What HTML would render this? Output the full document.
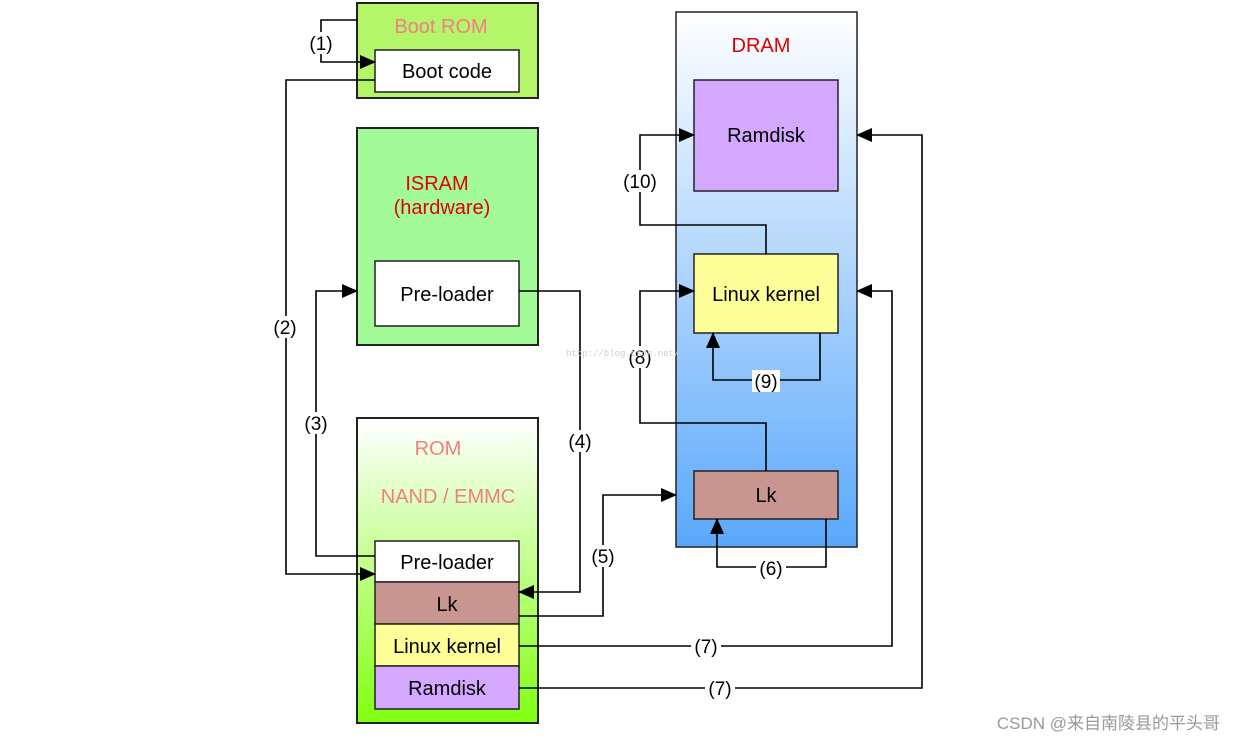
<!DOCTYPE html>
<html><head><meta charset="utf-8"><style>
html,body{margin:0;padding:0;background:#fff;}
svg{display:block;font-family:"Liberation Sans","Noto Sans CJK SC",sans-serif;}
</style></head><body>
<svg width="1234" height="743" viewBox="0 0 1234 743" xmlns="http://www.w3.org/2000/svg">
<defs>
<linearGradient id="rom" x1="0" y1="0" x2="0" y2="1"><stop offset="0" stop-color="#ffffff"/><stop offset="1" stop-color="#80ff10"/></linearGradient>
<linearGradient id="dram" x1="0" y1="0" x2="0" y2="1"><stop offset="0" stop-color="#ffffff"/><stop offset="1" stop-color="#5aa8fb"/></linearGradient>
<marker id="a" markerWidth="16" markerHeight="14" refX="15" refY="7" orient="auto" markerUnits="userSpaceOnUse"><path d="M0,0 L16,7 L0,14 z" fill="#000"/></marker>
</defs>
<rect x="357" y="3" width="181" height="95" fill="#b5f56a" stroke="#222" stroke-width="2"/>
<text x="441" y="33" font-size="20" fill="#f08080" text-anchor="middle">Boot ROM</text>
<rect x="375" y="50" width="144" height="42" fill="#fff" stroke="#222" stroke-width="1.5"/>
<text x="447" y="78" font-size="20" text-anchor="middle">Boot code</text>
<rect x="357" y="128" width="181" height="217" fill="#a2fa98" stroke="#222" stroke-width="2"/>
<text x="437" y="190" font-size="20" fill="#e00000" text-anchor="middle">ISRAM</text>
<text x="442" y="214" font-size="20" fill="#e00000" text-anchor="middle">(hardware)</text>
<rect x="375" y="261" width="144" height="65" fill="#fff" stroke="#222" stroke-width="1.5"/>
<text x="447" y="301" font-size="20" text-anchor="middle">Pre-loader</text>
<rect x="357" y="418" width="181" height="305" fill="url(#rom)" stroke="#222" stroke-width="2"/>
<text x="438" y="455" font-size="20" fill="#f08080" text-anchor="middle">ROM</text>
<text x="448" y="503" font-size="20" fill="#f08080" text-anchor="middle">NAND / EMMC</text>
<rect x="375" y="541" width="144" height="41" fill="#fff" stroke="#222" stroke-width="1.5"/>
<text x="447" y="569" font-size="20" text-anchor="middle">Pre-loader</text>
<rect x="375" y="582" width="144" height="42" fill="#c89590" stroke="#222" stroke-width="1.5"/>
<text x="447" y="611" font-size="20" text-anchor="middle">Lk</text>
<rect x="375" y="624" width="144" height="42" fill="#ffff99" stroke="#222" stroke-width="1.5"/>
<text x="447" y="653" font-size="20" text-anchor="middle">Linux kernel</text>
<rect x="375" y="666" width="144" height="43" fill="#d5a8ff" stroke="#222" stroke-width="1.5"/>
<text x="447" y="695" font-size="20" text-anchor="middle">Ramdisk</text>
<rect x="676" y="12" width="181" height="535" fill="url(#dram)" stroke="#222" stroke-width="1.5"/>
<text x="761" y="52" font-size="20" fill="#e00000" text-anchor="middle">DRAM</text>
<rect x="694" y="80" width="144" height="111" fill="#d5a8ff" stroke="#222" stroke-width="1.5"/>
<text x="766" y="142" font-size="20" text-anchor="middle">Ramdisk</text>
<rect x="694" y="254" width="144" height="79" fill="#ffff99" stroke="#222" stroke-width="1.5"/>
<text x="766" y="301" font-size="20" text-anchor="middle">Linux kernel</text>
<rect x="694" y="471" width="144" height="48" fill="#c89590" stroke="#222" stroke-width="1.5"/>
<text x="766" y="502" font-size="20" text-anchor="middle">Lk</text>
<g fill="none" stroke="#000" stroke-width="1.6">
<polyline points="357,20 321,20 321,62 375,62" marker-end="url(#a)"/>
<polyline points="375,80 286,80 286,574 375,574" marker-end="url(#a)"/>
<polyline points="375,556 316,556 316,291 357,291" marker-end="url(#a)"/>
<polyline points="519,291 580,291 580,592 519,592" marker-end="url(#a)"/>
<polyline points="519,616 603,616 603,495 676,495" marker-end="url(#a)"/>
<polyline points="519,646 892,646 892,291 857,291" marker-end="url(#a)"/>
<polyline points="519,688 922,688 922,135 857,135" marker-end="url(#a)"/>
<polyline points="766,254 766,225 640,225 640,135 694,135" marker-end="url(#a)"/>
<polyline points="766,471 766,423 640,423 640,291 694,291" marker-end="url(#a)"/>
<polyline points="820,333 820,380 713,380 713,333" marker-end="url(#a)"/>
<polyline points="826,519 826,567 717,567 717,519" marker-end="url(#a)"/>
</g>
<g font-size="19" text-anchor="middle">
<rect x="306" y="32" width="30" height="22" fill="#fff"/><text x="321" y="50">(1)</text>
<rect x="271" y="316" width="30" height="22" fill="#fff"/><text x="285" y="334">(2)</text>
<rect x="301" y="412" width="30" height="22" fill="#fff"/><text x="316" y="430">(3)</text>
<rect x="565" y="430" width="30" height="22" fill="#fff"/><text x="580" y="448">(4)</text>
<rect x="588" y="545" width="30" height="22" fill="#fff"/><text x="603" y="563">(5)</text>
<rect x="756" y="557" width="30" height="22" fill="#fff"/><text x="771" y="575">(6)</text>
<rect x="691" y="635" width="30" height="22" fill="#fff"/><text x="706" y="653">(7)</text>
<rect x="705" y="677" width="30" height="22" fill="#fff"/><text x="720" y="695">(7)</text>
<rect x="625" y="346" width="30" height="22" fill="#fff"/><text x="640" y="364">(8)</text>
<rect x="752" y="370" width="28" height="22" fill="#fff"/><text x="766" y="388">(9)</text>
<rect x="620" y="170" width="40" height="22" fill="#fff"/><text x="640" y="188">(10)</text>
</g>
<text x="566" y="356" font-size="9" fill="#ccc" font-family="Liberation Mono,monospace">http://blog.csdn.net/</text>
<text x="1220" y="729" font-size="17" fill="#999" text-anchor="end">CSDN @来自南陵县的平头哥</text>
</svg>
</body></html>
